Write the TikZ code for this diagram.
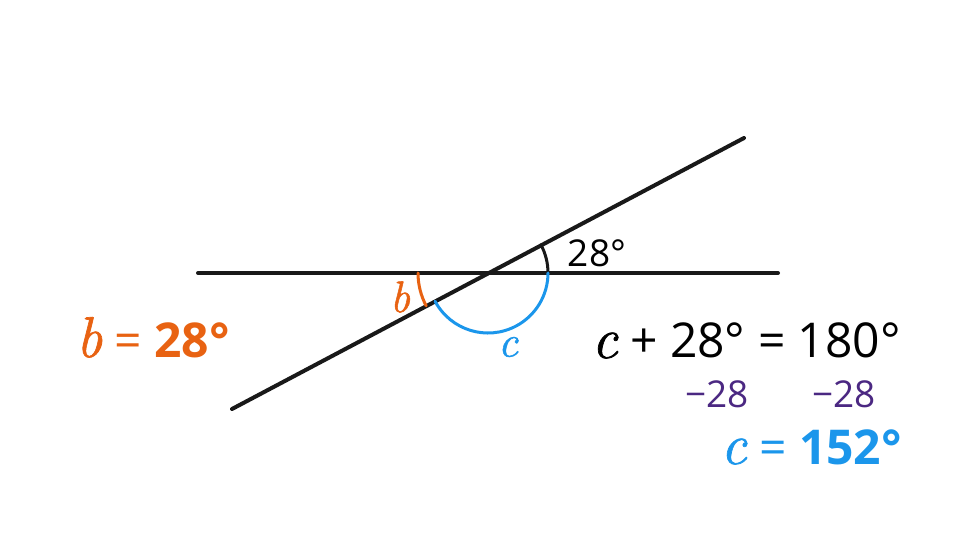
\documentclass[tikz,border=0pt]{standalone}
\usepackage{fontspec}
\setmainfont{Open Sans}
\newfontfamily\varfont{Latin Modern Roman}[Scale=1.2,ItalicFeatures={FakeBold=1.2}]
\newcommand{\var}[1]{{\varfont\itshape #1}}
\definecolor{angorange}{RGB}{232,98,18}
\definecolor{angblue}{RGB}{27,150,235}
\definecolor{angpurple}{RGB}{75,40,130}
\tikzset{
	big/.style={font=\fontsize{48}{52}\selectfont, inner sep=0pt},
	small/.style={font=\fontsize{37}{42}\selectfont, inner sep=0pt},
	line/.style={line width=4pt, draw=black!90},
	arc/.style={line width=3pt}
}
\begin{document}
\begin{tikzpicture}[x=1pt,y=1pt,cap=round]
	\useasboundingbox (0,0) rectangle (976,549);

	% the two lines
	\coordinate (o) at (488,276);
	\coordinate (hl) at (198,276);
	\coordinate (hr) at (778,276);
	\coordinate (sl) at (232,140);
	\coordinate (sr) at (744,411);
	\draw[line] (hl) -- (hr);
	\draw[line] (sl) -- (sr);

	% the angles
	\draw[arc,black!90] (o) ++(0:60) arc (0:28:60);
	\draw[arc,angorange] (o) ++(180:70) arc (180:208:70);
	\draw[arc,angblue] (o) ++(208:60) arc (208:360:60);

	% angle labels
	\node[small] (given) at (597,296) {28°};
	\node[small,text=angorange] (blabel) at (400,252) {\var{b}};
	\node[small,text=angblue] (clabel) at (508,202) {\var{c}};

	% working
	\node[big,anchor=base west,text=angorange] (beq) at (76,192) {\var{b} = \textbf{28°}};
	\node[big,anchor=base east] (ceq) at (901,191) {\var{c} + 28° = 180°};
	\foreach \x/\name in {717/subl,844/subr}
		\node[small,anchor=base,text=angpurple] (\name) at (\x,142) {−28};
	\node[big,anchor=base east,text=angblue] (cres) at (902,85) {\var{c} = \textbf{152°}};
\end{tikzpicture}
\end{document}
